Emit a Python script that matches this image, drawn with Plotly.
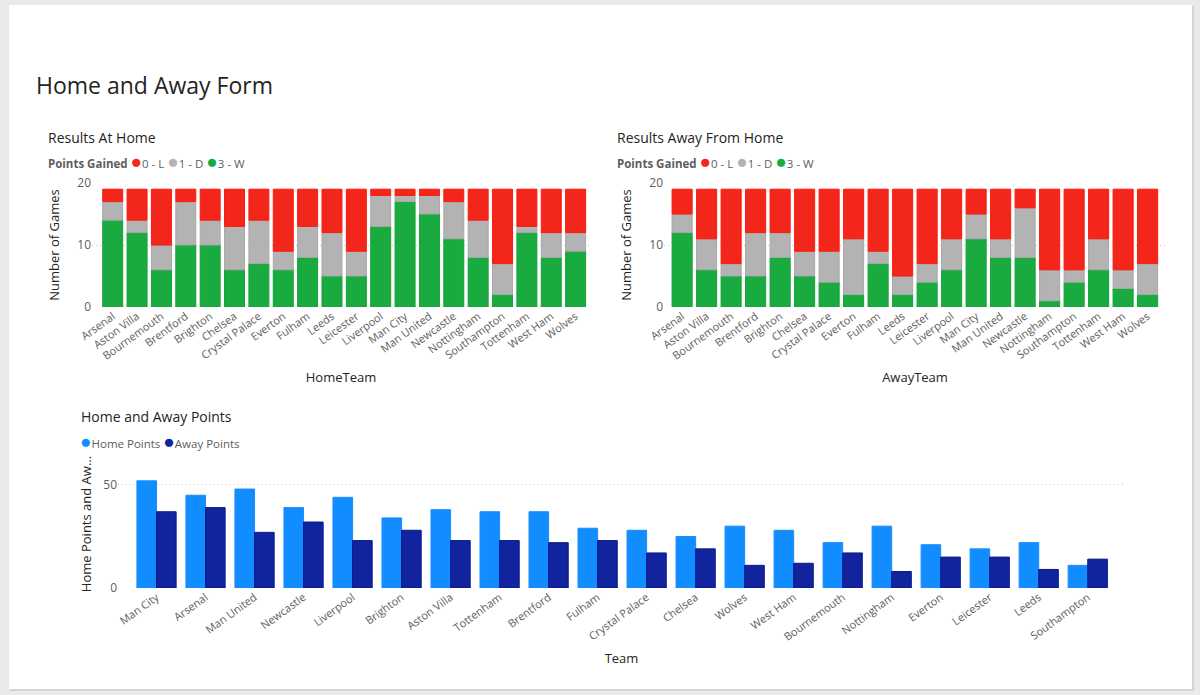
import plotly.graph_objects as go

# ---------------- data ----------------
teams = ["Arsenal", "Aston Villa", "Bournemouth", "Brentford", "Brighton", "Chelsea",
         "Crystal Palace", "Everton", "Fulham", "Leeds", "Leicester", "Liverpool",
         "Man City", "Man United", "Newcastle", "Nottingham", "Southampton",
         "Tottenham", "West Ham", "Wolves"]
home_w = [14, 12, 6, 10, 10, 6, 7, 6, 8, 5, 5, 13, 17, 15, 11, 8, 2, 12, 8, 9]
home_d = [3, 2, 4, 7, 4, 7, 7, 3, 5, 7, 4, 5, 1, 3, 6, 6, 5, 1, 4, 3]
home_l = [2, 5, 9, 2, 5, 6, 5, 10, 6, 7, 10, 1, 1, 1, 2, 5, 12, 6, 7, 7]
away_w = [12, 6, 5, 5, 8, 5, 4, 2, 7, 2, 4, 6, 11, 8, 8, 1, 4, 6, 3, 2]
away_d = [3, 5, 2, 7, 4, 4, 5, 9, 2, 3, 3, 5, 4, 3, 8, 5, 2, 5, 3, 5]
away_l = [4, 8, 12, 7, 7, 10, 10, 8, 10, 14, 12, 8, 4, 8, 3, 13, 13, 8, 13, 12]

rank_teams = ["Man City", "Arsenal", "Man United", "Newcastle", "Liverpool", "Brighton",
              "Aston Villa", "Tottenham", "Brentford", "Fulham", "Crystal Palace", "Chelsea",
              "Wolves", "West Ham", "Bournemouth", "Nottingham", "Everton", "Leicester",
              "Leeds", "Southampton"]
home_points = [52, 45, 48, 39, 44, 34, 38, 37, 37, 29, 28, 25, 30, 28, 22, 30, 21, 19, 22, 11]
away_points = [37, 39, 27, 32, 23, 28, 23, 23, 22, 23, 17, 19, 11, 12, 17, 8, 15, 15, 9, 14]

result_labels = ["3 - W", "1 - D", "0 - L"]

# ---------------- style ----------------
W, H = 1200, 695
FONT = "Segoe UI, Open Sans, sans-serif"
C_W, C_D, C_L = "#1AAB40", "#B3B3B3", "#F2261A"
E_W, E_D, E_L = "#14A038", "#A8A8A8", "#FF1A0A"
C_HOME, C_AWAY = "#118DFF", "#12239E"
E_HOME, E_AWAY = "#1A8CFF", "#0A1890"
TICK = "#605E5C"
DARK = "#252423"
GRID = "#C8C6C4"
PAGE = "#EAEAEA"


def px(x):
    return x / W


def py(y):
    return 1 - y / H


fig = go.Figure()


def stacked(xaxis, yaxis, w, d, l, name):
    b1 = w
    b2 = [a + b for a, b in zip(w, d)]
    for vals, base, col, edge, lab in [(w, None, C_W, E_W, result_labels[0]),
                                        (d, b1, C_D, E_D, result_labels[1]),
                                        (l, b2, C_L, E_L, result_labels[2])]:
        fig.add_trace(go.Bar(x=teams, y=vals, base=base, width=0.82,
                             marker=dict(color=col, line=dict(color=edge, width=1)),
                             name=lab, showlegend=False, xaxis=xaxis, yaxis=yaxis,
                             hovertemplate=name + " %{x}<br>" + lab + ": %{y}<extra></extra>"))


stacked("x", "y", home_w, home_d, home_l, "Home")
stacked("x2", "y2", away_w, away_d, away_l, "Away")

fig.add_trace(go.Bar(x=rank_teams, y=home_points, width=0.4, offset=-0.4, name="Home Points",
                     marker=dict(color=C_HOME, line=dict(color=E_HOME, width=1)),
                     showlegend=False, xaxis="x3", yaxis="y3"))
fig.add_trace(go.Bar(x=rank_teams, y=away_points, width=0.4, offset=0.0, name="Away Points",
                     marker=dict(color=C_AWAY, line=dict(color=E_AWAY, width=1)),
                     showlegend=False, xaxis="x3", yaxis="y3"))

tickfont = dict(family=FONT, size=11, color=TICK)
titlefont = dict(family=FONT, size=13, color=DARK)

xcommon = dict(type="category", showgrid=False, zeroline=False, showline=False, ticks="",
               tickangle=-36, tickfont=tickfont, fixedrange=True, automargin=False)
ycommon = dict(showgrid=True, gridcolor=GRID, griddash="1px,3px", gridwidth=1, zeroline=False,
               showline=False, ticks="", tickfont=dict(family=FONT, size=12, color=TICK),
               fixedrange=True, automargin=False)

fig.update_layout(
    template="none",
    width=W, height=H, autosize=False,
    margin=dict(l=0, r=0, t=0, b=0, pad=0, autoexpand=False),
    paper_bgcolor=PAGE,
    plot_bgcolor="rgba(0,0,0,0)",
    barmode="overlay",
    showlegend=False,
    font=dict(family=FONT, color=DARK),
    xaxis=dict(xcommon, domain=[px(92), px(590)], range=[-0.85, 19.59], anchor="y",
               title=dict(text="HomeTeam", font=titlefont, standoff=11)),
    yaxis=dict(ycommon, domain=[py(307), py(183)], range=[0, 20], tickvals=[0, 10, 20],
               anchor="x", title=dict(text="Number of Games", font=titlefont, standoff=14)),
    xaxis2=dict(xcommon, domain=[px(664), px(1166)], range=[-0.74, 19.75], anchor="y2",
                title=dict(text="AwayTeam", font=titlefont, standoff=11)),
    yaxis2=dict(ycommon, domain=[py(307), py(183)], range=[0, 20], tickvals=[0, 10, 20],
                anchor="x2", title=dict(text="Number of Games", font=titlefont, standoff=14)),
    xaxis3=dict(xcommon, domain=[px(118), px(1125)], range=[-0.786, 19.76], anchor="y3",
                title=dict(text="Team", font=titlefont, standoff=11)),
    yaxis3=dict(ycommon, domain=[py(588), py(460)], range=[0, 62.1], tickvals=[0, 50],
                anchor="x3", title=dict(text="Home Points and Aw...", font=titlefont, standoff=8)),
)

# white report card with soft shadow
fig.add_shape(type="rect", xref="paper", yref="paper", x0=px(10), x1=px(1194), y0=py(691), y1=py(6),
              fillcolor="#D4D4D4", line=dict(width=0), layer="below")
fig.add_shape(type="rect", xref="paper", yref="paper", x0=px(9), x1=px(1192), y0=py(689), y1=py(5),
              fillcolor="#FFFFFF", line=dict(width=0), layer="below")

DOT = "<span style=\"color:{c};font-size:19px\">●</span>"
ann = []
ann.append(dict(text="Home and Away Form", x=px(34), y=py(85), xanchor="left", yanchor="middle",
                font=dict(family=FONT, size=23, color=DARK)))
for x0, t in [(46, "Results At Home"), (615, "Results Away From Home")]:
    ann.append(dict(text=t, x=px(x0), y=py(137), xanchor="left", yanchor="middle",
                    font=dict(family=FONT, size=14, color=DARK)))
    legend_txt = ("<b>Points Gained</b> "
                  + DOT.format(c=C_L) + result_labels[2] + " "
                  + DOT.format(c=C_D) + result_labels[1] + " "
                  + DOT.format(c=C_W) + result_labels[0])
    ann.append(dict(text=legend_txt, x=px(x0), y=py(161), xanchor="left", yanchor="middle",
                    font=dict(family=FONT, size=11.5, color=TICK)))
ann.append(dict(text="Home and Away Points", x=px(79), y=py(416), xanchor="left", yanchor="middle",
                font=dict(family=FONT, size=14, color=DARK)))
ann.append(dict(text=DOT.format(c=C_HOME) + "Home Points " + DOT.format(c=C_AWAY) + "Away Points",
                x=px(78), y=py(441), xanchor="left", yanchor="middle",
                font=dict(family=FONT, size=11.5, color=TICK)))
for a in ann:
    a.update(xref="paper", yref="paper", showarrow=False)
fig.update_layout(annotations=ann)

fig.write_html("out.html",
               post_script="document.body.style.margin='0';"
                           "document.body.style.background='" + PAGE + "';"
                           "document.body.style.overflow='hidden';")
